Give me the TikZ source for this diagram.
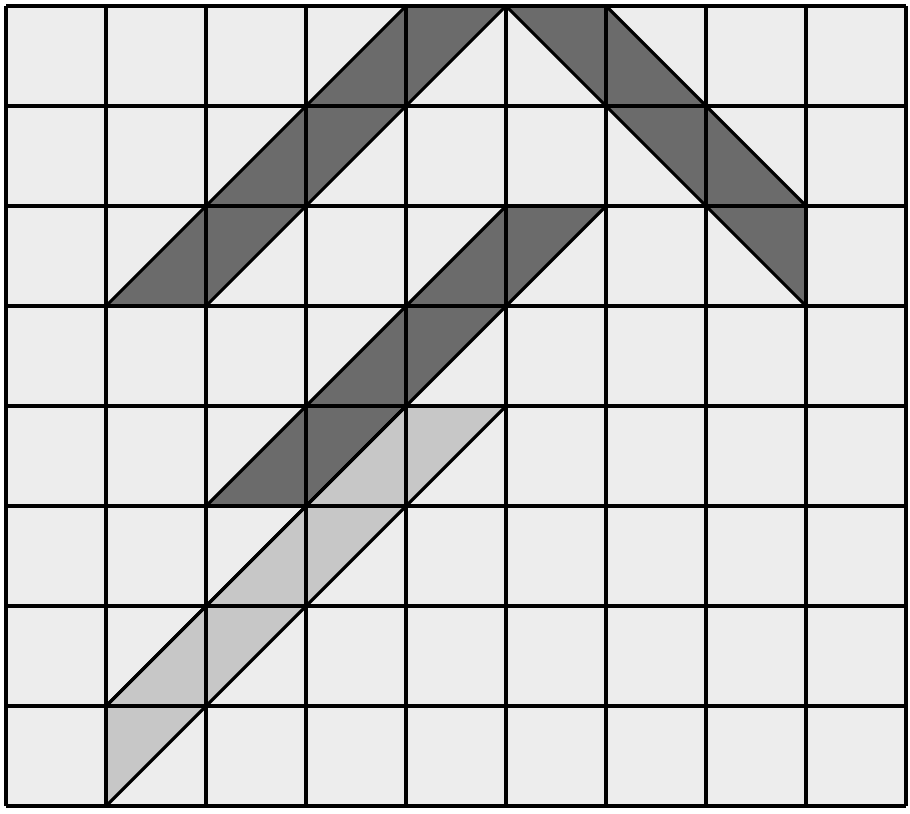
\documentclass[tikz,border=0pt]{standalone}
\usepackage{tikz}
\usetikzlibrary{calc}

\tikzset{
	darkband/.style={fill=black!58, draw=black, line width=0.9pt, line join=round},
	lightband/.style={fill=black!22, draw=black, line width=0.9pt, line join=round},
	gridline/.style={line width=0.9pt, draw=black},
}

\begin{document}
\begin{tikzpicture}[x=1cm, y=1cm]
				\useasboundingbox (-0.06,-0.07) rectangle (9.04,8.06);
				\fill[black!7] (0,0) rectangle (9,8);
				% corners of the bands
				\coordinate (P1) at (1,5);
				\coordinate (P2) at (4,8);
				\coordinate (P3) at (5,8);
				\coordinate (P4) at (2,5);
				\coordinate (Q1) at (6,8);
				\coordinate (Q2) at (8,6);
				\coordinate (Q3) at (8,5);
				\coordinate (R1) at (2,3);
				\coordinate (R2) at (5,6);
				\coordinate (R3) at (6,6);
				\coordinate (R4) at (3,3);
				\coordinate (S1) at (1,0);
				\coordinate (S2) at (1,1);
				\coordinate (S3) at (4,4);
				\coordinate (S4) at (5,4);
				\filldraw[darkband] (P1) -- (P2) -- (P3) -- (P4) -- cycle;
				\filldraw[darkband] (P3) -- (Q1) -- (Q2) -- (Q3) -- cycle;
				\filldraw[darkband] (R1) -- (R2) -- (R3) -- (R4) -- cycle;
				\filldraw[lightband] (S1) -- (S2) -- (S3) -- (S4) -- cycle;
				\foreach \i in {0,...,9}
					\draw[gridline] (\i,0) -- (\i,8);
				\foreach \j in {0,...,8}
					\draw[gridline] (0,\j) -- (9,\j);
				\draw[line width=0.9pt] (S3) -- (R4) -- (S2);
			\end{tikzpicture}
\end{document}
